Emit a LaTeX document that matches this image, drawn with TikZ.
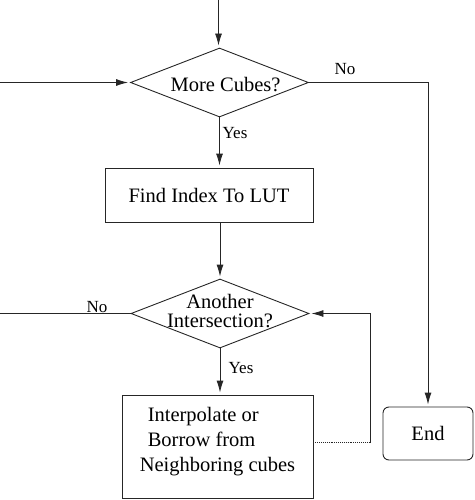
\documentclass[tikz,border=0pt]{standalone}
\usepackage{fontspec}
\setmainfont{Liberation Serif}
\usetikzlibrary{arrows.meta,shapes.geometric}
\begin{document}
\begin{tikzpicture}[x=1pt,y=-1pt,
  every node/.style={font=\fontsize{20.5}{25}\selectfont},
  line/.style={line width=0.9pt, draw=black!85},
  arr/.style={line, -{Latex[length=12pt,width=7pt]}, shorten >=2pt},
  dec/.style={draw=black!85, line width=0.9pt, diamond, minimum width=178pt, minimum height=69pt, inner sep=0pt},
  proc/.style={draw=black!85, line width=0.9pt, rectangle, inner sep=0pt},
  lbl/.style={font=\fontsize{17}{20}\selectfont, inner sep=0pt}]
\useasboundingbox (0,0) rectangle (474,500);
\coordinate (start) at (218.5,0);
\coordinate (lf) at (-5,0);
\coordinate (fb) at (370,0);
\node[dec, label={[xshift=6pt,yshift=-2pt]center:More Cubes?}] (d1) at (219.5,82.5) {};
\node[proc, minimum width=208pt, minimum height=54pt] (b1) at (209,195) {Find Index To LUT};
\node[dec, label={[align=center, font=\fontsize{20.5}{19}\selectfont, yshift=2pt]center:Another\\Intersection?}] (d2) at (220,313.5) {};
\node[proc, minimum width=191pt, minimum height=103pt,
  label={[align=left, yshift=5pt]center:\hspace*{8pt}Interpolate or\\\hspace*{8pt}Borrow from\\Neighboring cubes}] (b2) at (217.5,446.5) {};
\node[proc, rounded corners=6pt, minimum width=90pt, minimum height=53pt] (e) at (428,433.5) {End};
\node[lbl] (no1) at (345,69) {No};
\node[lbl] (yes1) at (235,133) {Yes};
\node[lbl] (no2) at (97,307) {No};
\node[lbl] (yes2) at (241,368) {Yes};
\draw[arr] (start) -- (start |- d1.north);
\draw[arr] (d1.south) -- (d1.south |- b1.north);
\draw[arr] (d2.north |- b1.south) -- (d2.north);
\draw[arr] (d2.south) -- (d2.south |- b2.north);
\draw[arr] (d1.east) -| (e.north);
\draw[arr] (d2.west) -- (d2.west -| lf) -- (d1.west -| lf) -- (d1.west);
\draw[line, densely dotted] ([yshift=4pt]b2.east) -- ([yshift=4pt]b2.east -| fb);
\draw[arr] ([yshift=4pt]b2.east -| fb) -- (d2.east -| fb) -- (d2.east);
\end{tikzpicture}
\end{document}
